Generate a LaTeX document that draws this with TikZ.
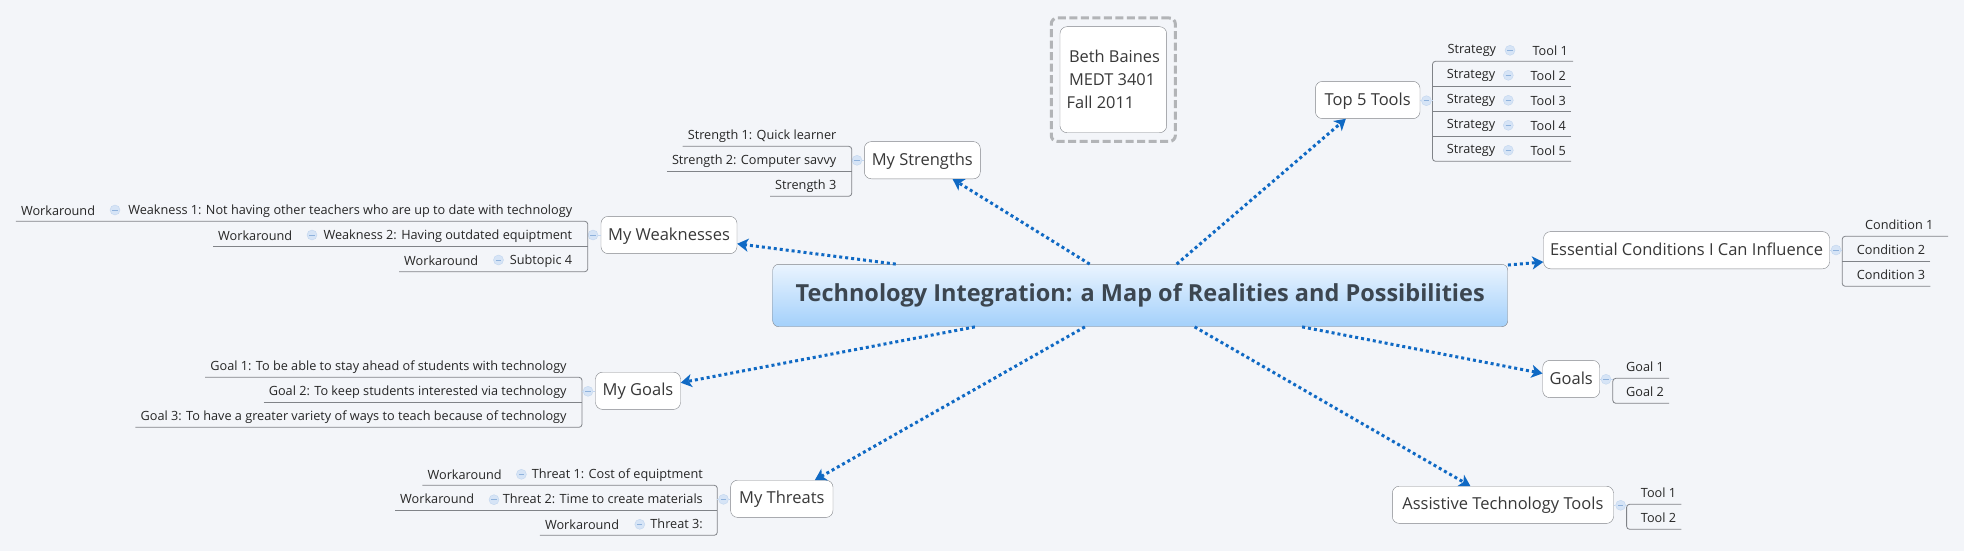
\documentclass[tikz,border=0pt]{standalone}
\usepackage{fontspec}
\setmainfont{Open Sans}
\usetikzlibrary{arrows.meta,positioning,fit}
\definecolor{bgcol}{HTML}{F3F5F9}
\definecolor{flowblue}{HTML}{0F69C4}
\definecolor{edgegray}{HTML}{808388}
\definecolor{titletext}{HTML}{3C4650}
\definecolor{foldfill}{HTML}{D6E4F6}
\definecolor{foldline}{HTML}{C2D6EF}
\definecolor{foldbar}{HTML}{8FB2DC}
\definecolor{centertop}{HTML}{EAF4FE}
\definecolor{centerbottom}{HTML}{A3D0FB}
\definecolor{framegray}{HTML}{B2B4B7}

\begin{document}
\begin{tikzpicture}[
  x=1pt, y=-1pt,
  central/.style={draw=edgegray, rounded corners=6pt, top color=centertop, bottom color=centerbottom,
    minimum width=735pt, minimum height=62.4pt, inner sep=0pt, text=titletext, font=\fontsize{23.5}{28}\selectfont\bfseries},
  topic/.style={draw=edgegray, fill=white, rounded corners=7pt, minimum height=37.2pt, inner sep=0pt, text=black!78,
    text height=13pt, text depth=3pt, font=\fontsize{16.5}{20}\selectfont},
  sub/.style={inner xsep=5pt, inner ysep=0pt, text height=12pt, text depth=7pt, text=black!85, font=\fontsize{12.7}{15}\selectfont},
  fold/.style={circle, draw=foldline, fill=foldfill, minimum size=10pt, inner sep=0pt,
    path picture={\draw[foldbar, line width=.8pt] ([xshift=2.4pt]path picture bounding box.west) -- ([xshift=-2.4pt]path picture bounding box.east);}},
  branch/.style={draw=edgegray, line width=.8pt, rounded corners=3pt},
  stub/.style={draw=foldline, line width=.9pt},
  flow/.style={-{Stealth[length=11pt,width=13pt,inset=3pt]}, flowblue, line width=3pt, dash pattern=on 3pt off 3pt}
]
\fill[bgcol] (0,0) rectangle (1964,551);
\useasboundingbox (0,0) rectangle (1964,551);

% central topic and main topics
\node[central] (central) at (1140.2,295.5) {Technology Integration: a Map of Realities and Possibilities};
\node[topic, minimum width=116pt] (strengths) at (922.3,160.2) {My Strengths};
\node[topic, minimum width=136pt] (weaknesses) at (669,235) {My Weaknesses};
\node[topic, minimum width=85pt] (mygoals) at (638,390.8) {My Goals};
\node[topic, minimum width=102.4pt] (threats) at (781.8,498.8) {My Threats};
\node[topic, minimum width=104.6pt] (tools) at (1367.7,100) {Top 5 Tools};
\node[topic, minimum width=286pt] (conditions) at (1686.5,250.2) {Essential Conditions I Can Influence};
\node[topic, minimum width=57pt] (goals) at (1571.2,379) {Goals};
\node[topic, minimum width=221.2pt] (assistive) at (1502.9,504.8) {Assistive Technology Tools};

% note with dashed frame
\node[draw=edgegray, fill=white, rounded corners=7pt, minimum width=106.7pt, minimum height=106pt, inner sep=0pt, align=left,
  text=black!78, font=\fontsize{16.4}{23}\selectfont] (note) at (1113.3,79.7) {\hspace*{2.3pt}Beth Baines\\\hspace*{2.3pt}MEDT 3401\\Fall 2011};
\node[draw=framegray, line width=3pt, dash pattern=on 8pt off 3.5pt, rounded corners=6pt, fit=(note), inner sep=8.5pt] (frame) {};

% flow arrows out of the centre
\foreach \b in {strengths,weaknesses,mygoals,threats,tools,conditions,goals,assistive}
  \draw[flow] (central) -- (\b);

% strengths
\coordinate (brS) at (851.7,171.3);
\node[sub, anchor=south east] (s1) at (841.5,146.3) {Strength 1: Quick learner};
\node[sub, anchor=south east] (s2) at (841.5,171.3) {Strength 2: Computer savvy};
\node[sub, anchor=south east] (s3) at (841.5,196.3) {Strength 3};
\node[fold] (foldS) at (857,160.3) {};
\draw[branch] (s1.south west) -| (brS) |- (s3.south west);

% weaknesses
\coordinate (brW) at (587.8,246.3);
\node[sub, anchor=south east] (w1) at (577.4,221.3) {Weakness 1: Not having other teachers who are up to date with technology};
\node[sub, anchor=south east] (w2) at (577.4,246.3) {Weakness 2: Having outdated equiptment};
\node[sub, anchor=south east] (w3) at (577.4,271.7) {Subtopic 4};
\node[sub, anchor=south west] (wa1) at (15.8,222.3) {Workaround};
\node[sub, anchor=south west] (wa2) at (213,247.3) {Workaround};
\node[sub, anchor=south west] (wa3) at (399,272.7) {Workaround};
\node[fold] (foldW1) at (115,210) {};
\node[fold] (foldW2) at (312,235) {};
\node[fold] (foldW3) at (498.5,260) {};
\node[fold] (foldW) at (593,235) {};
\draw[branch] (w1.south -| wa1.west) -| (brW) |- (w3.south -| wa3.west);

% my goals
\coordinate (brG) at (582,402.3);
\node[sub, anchor=south east] (g1) at (571.8,377.3) {Goal 1: To be able to stay ahead of students with technology};
\node[sub, anchor=south east] (g2) at (571.8,402.3) {Goal 2: To keep students interested via technology};
\node[sub, anchor=south east] (g3) at (571.8,427.3) {Goal 3: To have a greater variety of ways to teach because of technology};
\node[fold] (foldG) at (588,391.3) {};
\draw[branch] (g1.south west) -| (brG) |- (g3.south west);

% threats
\coordinate (brT) at (717.3,510.3);
\node[sub, anchor=south east] (t1) at (708,485.3) {Threat 1: Cost of equiptment};
\node[sub, anchor=south east] (t2) at (708,510.3) {Threat 2: Time to create materials};
\node[sub, anchor=south east] (t3) at (708,535.3) {Threat 3:};
\node[sub, anchor=south west] (ta1) at (422.4,486.3) {Workaround};
\node[sub, anchor=south west] (ta2) at (395,510.3) {Workaround};
\node[sub, anchor=south west] (ta3) at (539.8,536.3) {Workaround};
\node[fold] (foldT1) at (521.4,474.3) {};
\node[fold] (foldT2) at (494,499.7) {};
\node[fold] (foldT3) at (639.8,524.3) {};
\node[fold] (foldT) at (723.5,499.3) {};
\draw[branch] (t1.south -| ta1.west) -| (brT) |- (t3.south -| ta3.west);

% top 5 tools
\coordinate (brL) at (1432.5,111.3);
\node[sub, anchor=south west, text depth=8pt] (st1) at (1442.5,61.3) {Strategy};
\node[sub, anchor=south east] (tl1) at (1573,62.3) {Tool 1};
\node[fold] (foldL1) at (1510,50.3) {};
\foreach \i/\y in {2/86.3,3/111.3,4/136.3,5/161.3} {
  \node[sub, anchor=south west, text depth=8pt] (st\i) at (1441.7,\y) {Strategy};
  \node[sub, anchor=south east] (tl\i) at (1571,\y+1) {Tool \i};
  \node[fold] (foldL\i) at (1508.3,\y-11) {};
}
\node[fold] (foldL) at (1426.4,100.7) {};
\draw[branch] (st1.south -| tl1.east) -| (brL) |- (st5.south -| tl5.east);

% conditions
\coordinate (brC) at (1842.2,261.3);
\node[sub, anchor=south west] (c1) at (1860,236.3) {Condition 1};
\node[sub, anchor=south west] (c2) at (1851.7,261.3) {Condition 2};
\node[sub, anchor=south west] (c3) at (1851.7,286.3) {Condition 3};
\coordinate (endC) at (1948,236.3);
\node[fold] (foldC) at (1836,250) {};
\draw[branch] (endC) -| (brC) |- (c3.south east);

% goals
\coordinate (brH) at (1612.8,390);
\node[sub, anchor=south west] (h1) at (1621,378.3) {Goal 1};
\node[sub, anchor=south west] (h2) at (1621,403.3) {Goal 2};
\node[fold] (foldH) at (1606,379.3) {};
\draw[branch] (h1.south east) -| (brH) |- (h2.south east);

% assistive tools
\coordinate (brA) at (1626.6,516);
\node[sub, anchor=south west] (a1) at (1635.7,504.3) {Tool 1};
\node[sub, anchor=south west] (a2) at (1635.7,529.3) {Tool 2};
\node[fold] (foldA) at (1620.6,505.3) {};
\draw[branch] (a1.south east) -| (brA) |- (a2.south east);

% straight rows in the middle of each bracket
\foreach \a/\c/\b in {s2/s2/brS,w2/wa2/brW,g2/g2/brG,t2/ta2/brT}
  \draw[branch] (\a.south -| \c.west) -- (\a.south -| \b);
\foreach \a/\c/\b in {st2/tl2/brL,st3/tl3/brL,st4/tl4/brL,c2/c2/brC}
  \draw[branch] (\a.south -| \c.east) -- (\a.south -| \b);

% little stubs from topic to fold mark to bracket
\foreach \f/\n/\b in {foldS/strengths/brS,foldW/weaknesses/brW,foldG/mygoals/brG,foldT/threats/brT} {
  \draw[stub] (\f -| \n.west) -- (\f);
  \draw[stub] (\f) -- (\f -| \b);
}
\foreach \f/\n/\b in {foldL/tools/brL,foldC/conditions/brC,foldH/goals/brH,foldA/assistive/brA} {
  \draw[stub] (\f -| \n.east) -- (\f);
  \draw[stub] (\f) -- (\f -| \b);
}
\end{tikzpicture}
\end{document}
